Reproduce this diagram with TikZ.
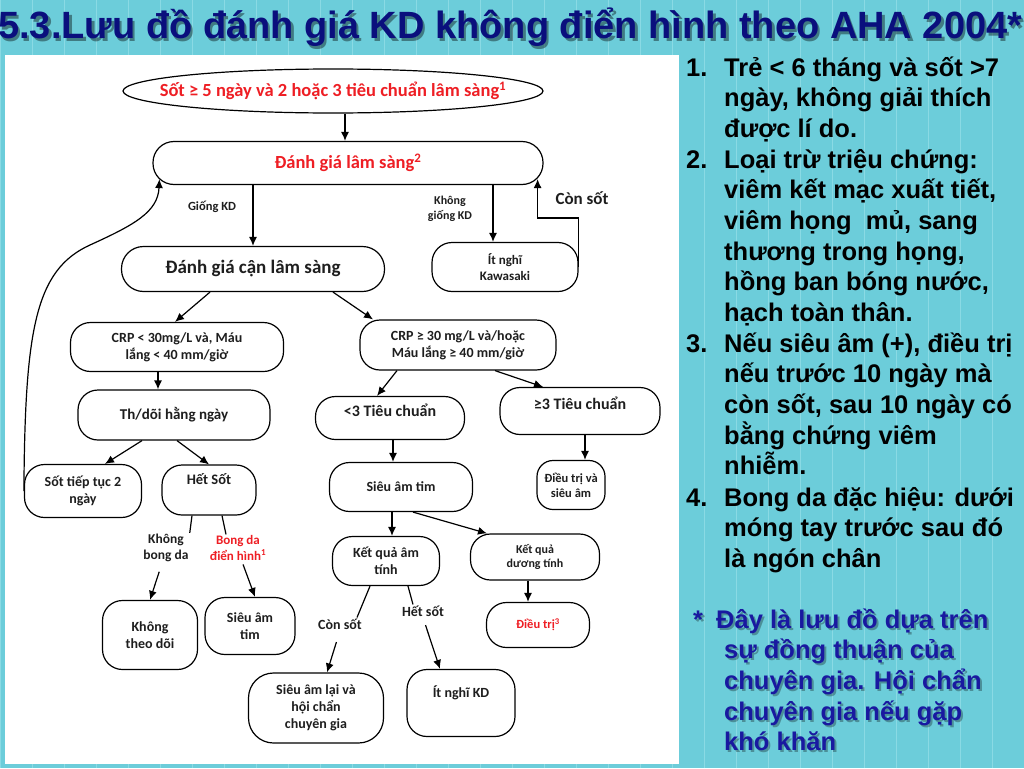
\documentclass[tikz,border=0pt]{standalone}
\usepackage{fontspec}
\usepackage{xcolor}
\usepackage{tikz}
\usetikzlibrary{shapes, arrows.meta, positioning, calc}
\setmainfont{Liberation Sans}
\newfontfamily\flowfont{Carlito}
\newcommand{\fsz}[1]{\fontsize{#1}{\fpeval{1.2*#1}}\selectfont}
\newcommand{\notefont}{\bfseries\fontsize{25.5}{30.7}\selectfont\lineskiplimit=-50pt\relax}
\definecolor{slidebg}{RGB}{108,205,218}
\definecolor{gridline}{RGB}{138,218,228}
\definecolor{titleblue}{RGB}{10,15,125}
\definecolor{footblue}{RGB}{25,25,160}
\definecolor{flowred}{RGB}{238,30,36}
\definecolor{flowtext}{RGB}{30,30,30}
\tikzset{
    base/.style={draw=black, line width=1.2pt, text=flowtext, font=\flowfont\bfseries\fsz{14}, align=center, inner sep=2pt},
    block/.style={base, rectangle, rounded corners=20pt},
    terminal/.style={base, ellipse},
    tag/.style={text=flowtext, font=\flowfont\bfseries\fsz{13}, align=center, inner sep=1pt},
    textsize/.style={font=\flowfont\bfseries\fsz{#1}},
    notetext/.style={anchor=base west, inner sep=0pt, align=left, font=\notefont},
    line/.style={draw=black, line width=1.2pt, -{Latex[length=9pt, width=8pt]}},
    plain/.style={draw=black, line width=1.2pt}
}

\begin{document}
\begin{tikzpicture}[x=1pt, y=-1pt]
    \useasboundingbox (0,0) rectangle (1024,768);
    \fill [slidebg] (0,0) rectangle (1024,768);
    \draw [gridline, line width=1pt, step=32] (0,768) grid (1024,0);
    \fill [white] (5,55) rectangle (679,764);

    \node [anchor=base west, inner sep=0pt, text=black, opacity=0.4, font=\bfseries\fontsize{38}{40}\selectfont] (titleshadow) at (0.5,41.5) {5.3.Lưu đồ đánh giá KD không điển hình theo AHA 2004*};
    \node [anchor=base west, inner sep=0pt, text=titleblue, font=\bfseries\fontsize{38}{40}\selectfont] (title) at (-2,39) {5.3.Lưu đồ đánh giá KD không điển hình theo AHA 2004*};

    \node [notetext] (num1) at (686,76) {1.};
    \node [notetext] (note1) at (724,137.4) {Trẻ < 6 tháng và sốt >7\\ngày, không giải thích\\được lí do.};
    \node [notetext] (num2) at (686,168) {2.};
    \node [notetext] (note2) at (724,321.5) {Loại trừ triệu chứng:\\viêm kết mạc xuất tiết,\\viêm họng\ \ mủ, sang\\thương trong họng,\\hồng ban bóng nước,\\hạch toàn thân.};
    \node [notetext] (num3) at (686,352) {3.};
    \node [notetext] (note3) at (724,474.8) {Nếu siêu âm (+), điều trị\\nếu trước 10 ngày mà\\còn sốt, sau 10 ngày có\\bằng chứng viêm\\nhiễm.};
    \node [notetext] (num4) at (686,506) {4.};
    \node [notetext] (note4) at (724,567.4) {Bong da đặc hiệu: dưới\\móng tay trước sau đó\\là ngón chân};

    \node [notetext, text=black, opacity=0.3] (starshadow) at (695,630) {*};
    \node [notetext, text=black, opacity=0.3] (footshadow) at (718,752.8) {Đây là lưu đồ dựa trên\\\hspace*{8pt}sự đồng thuận của\\\hspace*{8pt}chuyên gia. Hội chẩn\\\hspace*{8pt}chuyên gia nếu gặp\\\hspace*{8pt}khó khăn};
    \node [notetext, text=footblue] (star) at (693,628) {*};
    \node [notetext, text=footblue] (footnote) at (716,750.8) {Đây là lưu đồ dựa trên\\\hspace*{8pt}sự đồng thuận của\\\hspace*{8pt}chuyên gia. Hội chẩn\\\hspace*{8pt}chuyên gia nếu gặp\\\hspace*{8pt}khó khăn};

    \node [terminal, text=flowred, textsize=18.5, minimum width=420pt, minimum height=44pt, inner sep=0pt] (fever) at (333,91) {\makebox[0pt]{Sốt ≥ 5 ngày và 2 hoặc 3 tiêu chuẩn lâm sàng\textsuperscript{1}}};
    \node [block, rounded corners=21pt, text=flowred, textsize=18.5, minimum width=390pt, minimum height=43pt] (clin) at (348,163) {Đánh giá lâm sàng\textsuperscript{2}};
    \node [block, rounded corners=22pt, textsize=19, minimum width=263pt, minimum height=45pt] (lab) at (253,269) {Đánh giá cận lâm sàng};
    \node [block, textsize=13, minimum width=146pt, minimum height=49pt] (kaw) at (505,267) {Ít nghĩ\\Kawasaki};
    \node [block, minimum width=213pt, minimum height=49pt] (crplow) at (177,347) {CRP < 30mg/L và, Máu\\lắng < 40 mm/giờ};
    \node [block, minimum width=196pt, minimum height=50pt] (crphigh) at (458,345) {CRP ≥ 30 mg/L và/hoặc\\Máu lắng ≥ 40 mm/giờ};
    \node [block, textsize=15, minimum width=192pt, minimum height=50pt] (follow) at (174,415) {Th/dõi hằng ngày};
    \node [block, textsize=16, text depth=16pt, minimum width=149pt, minimum height=43pt] (few) at (390,418) {<3 Tiêu chuẩn};
    \node [block, textsize=16, text depth=15pt, minimum width=160pt, minimum height=47pt] (many) at (580,411) {≥3 Tiêu chuẩn};
    \node [block, minimum width=117pt, minimum height=53pt] (stillfever) at (83,491) {Sốt tiếp tục 2\\ngày};
    \node [block, textsize=14.5, text depth=22pt, minimum width=94pt, minimum height=50pt] (nofever) at (209,490) {Hết Sốt};
    \node [block, minimum width=143pt, minimum height=49pt] (echo) at (401,487) {Siêu âm tim};
    \node [block, textsize=12.5, rounded corners=16pt, minimum width=68pt, minimum height=49pt] (treatecho) at (571,485) {Điều trị và\\siêu âm};
    \node [block, minimum width=107pt, minimum height=49pt] (neg) at (386,561) {Kết quả âm\\tính};
    \node [block, textsize=12, minimum width=129pt, minimum height=46pt] (pos) at (535,557) {Kết quả\\dương tính};
    \node [block, minimum width=95pt, minimum height=69pt] (nofollow) at (150,635) {Không\\theo dõi};
    \node [block, minimum width=90pt, minimum height=57pt] (echotwo) at (250,626) {Siêu âm\\tim};
    \node [block, text=flowred, textsize=12.5, minimum width=103pt, minimum height=45pt] (treat) at (538,625) {Điều trị\textsuperscript{3}};
    \node [block, rounded corners=25pt, minimum width=135pt, minimum height=70pt] (refer) at (316,708) {Siêu âm lại và\\hội chẩn\\chuyên gia};
    \node [block, text depth=22pt, minimum width=108pt, minimum height=67pt] (notkd) at (461,703) {Ít nghĩ KD};

    \node [tag, textsize=12.5] (alike) at (212,207) {Giống KD};
    \node [tag, textsize=12] (unlike) at (450,209) {Không\\giống KD};
    \node [tag, textsize=17] (feverback) at (582,198) {Còn sốt};
    \node [tag, textsize=13.5] (nopeel) at (166,548) {Không\\bong da};
    \node [tag, text=flowred, textsize=13] (peel) at (238,548) {Bong da\\điển hình\textsuperscript{1}};
    \node [tag, textsize=14] (negfever) at (340,624) {Còn sốt};
    \node [tag, textsize=14] (negnofever) at (423,611) {Hết sốt};

    \draw [line] ([xshift=12pt]fever.south) -- ([xshift=12pt]fever.south |- clin.north);
    \draw [line] (clin.south -| lab.north) -- (lab.north);
    \draw [line] ([xshift=-12pt]kaw.north |- clin.south) -- ([xshift=-12pt]kaw.north);
    \draw [line] (kaw.east) -- ++(0,-49) -| ([shift={(-6,-6)}]clin.south east);
    \draw [line] ([xshift=-43pt]lab.south) -- ([xshift=-2pt]crplow.north);
    \draw [line] ([xshift=80pt]lab.south) -- ([xshift=-85pt]crphigh.north);
    \draw [line] ([xshift=-19pt]crplow.south) -- ([xshift=-19pt]crplow.south |- follow.north);
    \draw [line] ([xshift=-32pt]follow.south) -- ([xshift=22pt]stillfever.north);
    \draw [line] ([xshift=3pt]follow.south) -- (nofever.north);
    \draw [line] (stillfever.west) .. controls (25,330) and (35,270) .. (90,245) .. controls (134,225) and (158,212) .. ([shift={(7,-6)}]clin.south west);

    \draw [plain] ([xshift=-17pt]nofever.south) -- (nopeel.north east);
    \draw [plain] ([xshift=13pt]nofever.south) -- ([xshift=-12pt]peel.north);
    \draw [line, shorten <=9pt] ([xshift=-4pt]nopeel.south) -- (nofollow.north);
    \draw [line, shorten <=3pt] ([xshift=4pt]peel.south) -- ([xshift=5pt]echotwo.north);

    \draw [line] ([xshift=-61pt]crphigh.south) -- ([xshift=-13pt]few.north);
    \draw [line] ([xshift=37pt]crphigh.south) -- ([xshift=-37pt]many.north);
    \draw [line] ([xshift=3pt]few.south) -- ([xshift=3pt]few.south |- echo.north);
    \draw [line] ([xshift=5pt]many.south) -- ([xshift=5pt]many.south |- treatecho.north);
    \draw [line] ([xshift=-9pt]echo.south) -- ([xshift=-9pt]echo.south |- neg.north);
    \draw [line] ([xshift=12pt]echo.south) -- ([xshift=-48pt]pos.north);
    \draw [line] ([xshift=-7pt]pos.south) -- ([xshift=-7pt]pos.south |- treat.north);
    \draw [plain] ([xshift=-16pt]neg.south) -- ([xshift=17pt]negfever.north);
    \draw [line, shorten <=12pt] (negfever.south) -- ([xshift=11pt]refer.north);
    \draw [plain] ([xshift=22pt]neg.south) -- ([xshift=-10pt]negnofever.north);
    \draw [line, shorten <=8pt] (negnofever.south) -- ([xshift=-21pt]notkd.north);
\end{tikzpicture}
\end{document}
